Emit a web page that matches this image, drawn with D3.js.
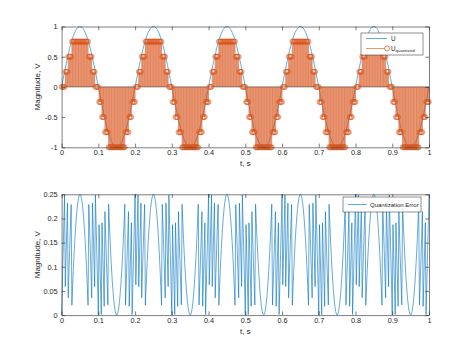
<!DOCTYPE html>
<html lang="en">
<head>
<meta charset="utf-8">
<title>Quantization</title>
<script src="https://d3js.org/d3.v7.min.js"></script>
<style>
  body { margin: 0; background: #fff; }
  svg text { font-family: "Liberation Sans", Arial, sans-serif; fill: #262626; }
  .axis path, .axis line { stroke: #262626; stroke-width: 0.6px; }
</style>
</head>
<body>
<div id="chart"></div>
<script>
// signal sampled at 500 samples per second, 5 periods in 1 s
var sampleRate = 500;
var periods = 5;

// first sample, t = 0
var uStart = 0, uQuantizedStart = 0, errorStart = 0;

// one period of samples (t = 0.002 .. 0.2), repeated for the whole record
var uPeriod = [
  0.0628,0.1253,0.1874,0.2487,0.309,0.3681,0.4258,0.4818,0.5358,0.5878,
  0.6374,0.6845,0.729,0.7705,0.809,0.8443,0.8763,0.9048,0.9298,0.9511,
  0.9686,0.9823,0.9921,0.998,1,0.998,0.9921,0.9823,0.9686,0.9511,
  0.9298,0.9048,0.8763,0.8443,0.809,0.7705,0.729,0.6845,0.6374,0.5878,
  0.5358,0.4818,0.4258,0.3681,0.309,0.2487,0.1874,0.1253,0.0628,0,
  -0.0628,-0.1253,-0.1874,-0.2487,-0.309,-0.3681,-0.4258,-0.4818,-0.5358,-0.5878,
  -0.6374,-0.6845,-0.729,-0.7705,-0.809,-0.8443,-0.8763,-0.9048,-0.9298,-0.9511,
  -0.9686,-0.9823,-0.9921,-0.998,-1,-0.998,-0.9921,-0.9823,-0.9686,-0.9511,
  -0.9298,-0.9048,-0.8763,-0.8443,-0.809,-0.7705,-0.729,-0.6845,-0.6374,-0.5878,
  -0.5358,-0.4818,-0.4258,-0.3681,-0.309,-0.2487,-0.1874,-0.1253,-0.0628,0
];

var uQuantizedPeriod = [
  0,0,0,0,0.25,0.25,0.25,0.25,0.5,0.5,
  0.5,0.5,0.5,0.75,0.75,0.75,0.75,0.75,0.75,0.75,
  0.75,0.75,0.75,0.75,0.75,0.75,0.75,0.75,0.75,0.75,
  0.75,0.75,0.75,0.75,0.75,0.75,0.5,0.5,0.5,0.5,
  0.5,0.25,0.25,0.25,0.25,0,0,0,0,0,
  -0.25,-0.25,-0.25,-0.25,-0.5,-0.5,-0.5,-0.5,-0.75,-0.75,
  -0.75,-0.75,-0.75,-1,-1,-1,-1,-1,-1,-1,
  -1,-1,-1,-1,-1,-1,-1,-1,-1,-1,
  -1,-1,-1,-1,-1,-1,-0.75,-0.75,-0.75,-0.75,
  -0.75,-0.5,-0.5,-0.5,-0.5,-0.25,-0.25,-0.25,-0.25,-0.25
];

var errorPeriod = [
  0.0628,0.1253,0.1874,0.2487,0.059,0.1181,0.1758,0.2318,0.0358,0.0878,
  0.1374,0.1845,0.229,0.0205,0.059,0.0943,0.1263,0.1548,0.1798,0.2011,
  0.2186,0.2323,0.2421,0.248,0.25,0.248,0.2421,0.2323,0.2186,0.2011,
  0.1798,0.1548,0.1263,0.0943,0.059,0.0205,0.229,0.1845,0.1374,0.0878,
  0.0358,0.2318,0.1758,0.1181,0.059,0.2487,0.1874,0.1253,0.0628,0,
  0.1872,0.1247,0.0626,0.0013,0.191,0.1319,0.0742,0.0182,0.2142,0.1622,
  0.1126,0.0655,0.021,0.2295,0.191,0.1557,0.1237,0.0952,0.0702,0.0489,
  0.0314,0.0177,0.0079,0.002,0,0.002,0.0079,0.0177,0.0314,0.0489,
  0.0702,0.0952,0.1237,0.1557,0.191,0.2295,0.021,0.0655,0.1126,0.1622,
  0.2142,0.0182,0.0742,0.1319,0.191,0.0013,0.0626,0.1247,0.1872,0.25
];

var xTicks = [0, 0.1, 0.2, 0.3, 0.4, 0.5, 0.6, 0.7, 0.8, 0.9, 1];
var yTicksTop = [-1, -0.5, 0, 0.5, 1];
var yTicksBottom = [0, 0.05, 0.1, 0.15, 0.2, 0.25];

function repeatPeriod(first, period) {
  var out = [first];
  for (var p = 0; p < periods; p++) out = out.concat(period);
  return out;
}

var u = repeatPeriod(uStart, uPeriod);
var uQuantized = repeatPeriod(uQuantizedStart, uQuantizedPeriod);
var quantError = repeatPeriod(errorStart, errorPeriod);
var t = u.map(function (d, i) { return i / sampleRate; });

var blue = "#0072BD", orange = "#D95319";
var W = 474, H = 354;
var left = 61.6, right = 429;
var tickLen = 3.7;

var svg = d3.select("#chart").append("svg")
  .attr("width", W).attr("height", H);

var x = d3.scaleLinear().domain([0, 1]).range([left, right]);

// box, ticks and labels for one subplot
function drawAxes(y, yTicks, top, bottom) {
  var g = svg.append("g");
  g.append("g").attr("class", "axis")
    .attr("transform", "translate(0," + bottom + ")")
    .call(d3.axisBottom(x).tickValues(xTicks).tickSize(-tickLen).tickSizeOuter(0).tickPadding(3).tickFormat(String))
    .call(function (s) { s.selectAll("text").style("font-size", "7.3px"); });
  g.append("g").attr("class", "axis")
    .attr("transform", "translate(0," + top + ")")
    .call(d3.axisTop(x).tickValues(xTicks).tickSize(-tickLen).tickSizeOuter(0).tickFormat(""));
  g.append("g").attr("class", "axis")
    .attr("transform", "translate(" + left + ",0)")
    .call(d3.axisLeft(y).tickValues(yTicks).tickSize(-tickLen).tickSizeOuter(0).tickPadding(4).tickFormat(String))
    .call(function (s) { s.selectAll("text").style("font-size", "7.3px"); });
  g.append("g").attr("class", "axis")
    .attr("transform", "translate(" + right + ",0)")
    .call(d3.axisRight(y).tickValues(yTicks).tickSize(-tickLen).tickSizeOuter(0).tickFormat(""));
  g.selectAll(".axis").attr("fill", "none");

  g.append("text")
    .attr("x", (left + right) / 2).attr("y", bottom + 19)
    .attr("text-anchor", "middle").style("font-size", "8px")
    .text("t, s");
  g.append("text")
    .attr("transform", "translate(40," + ((top + bottom) / 2) + ") rotate(-90)")
    .attr("text-anchor", "middle").style("font-size", "8px")
    .text("Magnitude, V");
}

// ---------- top: U and U quantized ----------
var topT = 26.5, topB = 147.3;
var y1 = d3.scaleLinear().domain([-1, 1]).range([topB, topT]);

svg.append("path")
  .datum(u)
  .attr("fill", "none").attr("stroke", blue).attr("stroke-width", 0.6)
  .attr("d", d3.line().x(function (d, i) { return x(t[i]); }).y(function (d) { return y1(d); }));

// stems
svg.append("g").selectAll("line")
  .data(uQuantized).enter().append("line")
  .attr("x1", function (d, i) { return x(t[i]); })
  .attr("x2", function (d, i) { return x(t[i]); })
  .attr("y1", y1(0))
  .attr("y2", function (d) { return y1(d); })
  .attr("stroke", orange).attr("stroke-width", 0.6);

svg.append("line")
  .attr("x1", x(0)).attr("x2", x(1)).attr("y1", y1(0)).attr("y2", y1(0))
  .attr("stroke", "#262626").attr("stroke-width", 0.5);

svg.append("g").selectAll("circle")
  .data(uQuantized).enter().append("circle")
  .attr("cx", function (d, i) { return x(t[i]); })
  .attr("cy", function (d) { return y1(d); })
  .attr("r", 2.5)
  .attr("fill", "none").attr("stroke", orange).attr("stroke-width", 0.5);

drawAxes(y1, yTicksTop, topT, topB);

// legend
var lg = svg.append("g");
lg.append("rect").attr("x", 361).attr("y", 33).attr("width", 62).attr("height", 22)
  .attr("fill", "#fff").attr("stroke", "#262626").attr("stroke-width", 0.5);
lg.append("line").attr("x1", 366).attr("x2", 387).attr("y1", 38.5).attr("y2", 38.5)
  .attr("stroke", blue).attr("stroke-width", 0.6);
lg.append("text").attr("x", 391).attr("y", 40.8).style("font-size", "6.3px").text("U");
lg.append("line").attr("x1", 366).attr("x2", 384.5).attr("y1", 48.5).attr("y2", 48.5)
  .attr("stroke", orange).attr("stroke-width", 0.6);
lg.append("circle").attr("cx", 387).attr("cy", 48.5).attr("r", 2.5)
  .attr("fill", "none").attr("stroke", orange).attr("stroke-width", 0.7);
var qt = lg.append("text").attr("x", 391).attr("y", 50.8).style("font-size", "6.3px");
qt.append("tspan").text("U");
qt.append("tspan").attr("dy", 1.6).style("font-size", "4.4px").text("quantized");

// ---------- bottom: quantization error ----------
var botT = 194.3, botB = 315.1;
var y2 = d3.scaleLinear().domain([0, 0.25]).range([botB, botT]);

svg.append("path")
  .datum(quantError)
  .attr("fill", "none").attr("stroke", blue).attr("stroke-width", 0.6)
  .attr("d", d3.line().x(function (d, i) { return x(t[i]); }).y(function (d) { return y2(d); }));

drawAxes(y2, yTicksBottom, botT, botB);

var lg2 = svg.append("g");
lg2.append("rect").attr("x", 343).attr("y", 197).attr("width", 78).attr("height", 15)
  .attr("fill", "#fff").attr("stroke", "#262626").attr("stroke-width", 0.5);
lg2.append("line").attr("x1", 348).attr("x2", 367).attr("y1", 204.5).attr("y2", 204.5)
  .attr("stroke", blue).attr("stroke-width", 0.6);
lg2.append("text").attr("x", 370).attr("y", 206.6).style("font-size", "6px").text("Quantization Error");
</script>
</body>
</html>
